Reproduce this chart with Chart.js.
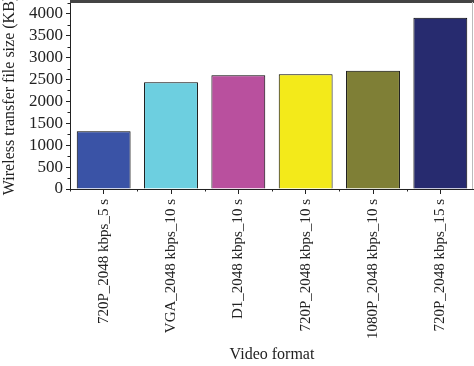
<!DOCTYPE html>
<html>
<head>
<meta charset="utf-8">
<script src="https://cdn.jsdelivr.net/npm/chart.js@4"></script>
<style>
  html, body { margin: 0; padding: 0; background: #fff; }
  #wrap { width: 474px; height: 366px; position: relative; }
</style>
</head>
<body>
<div id="wrap"><canvas id="c"></canvas></div>
<script>
const formats = ["720P_2048 kbps_5 s", "VGA_2048 kbps_10 s", "D1_2048 kbps_10 s",
  "720P_2048 kbps_10 s", "1080P_2048 kbps_10 s", "720P_2048 kbps_15 s"];
const sizes = [1320, 2440, 2600, 2620, 2700, 3910];
const barColors = ["#3a53a6", "#6dcfe0", "#b9509e", "#f3ea1a", "#7f7f36", "#272b6f"];
const yTicks = [0, 500, 1000, 1500, 2000, 2500, 3000, 3500, 4000];
const yMax = 4270;

const serif = "'Liberation Serif', 'DejaVu Serif', serif";

// minor ticks + top frame line
const minorTicks = {
  id: "minorTicks",
  afterDraw(chart) {
    const ctx = chart.ctx;
    const y = chart.scales.y, x = chart.scales.x;
    const area = chart.chartArea;
    ctx.save();
    ctx.strokeStyle = "#222";
    ctx.lineWidth = 1;
    ctx.beginPath();
    for (let v = 250; v < yMax; v += 500) {
      const py = Math.round(y.getPixelForValue(v)) + 0.5;
      ctx.moveTo(area.left - 2.5, py);
      ctx.lineTo(area.left, py);
    }
    for (let i = 0; i <= formats.length; i++) {
      const px = Math.round(x.getPixelForValue(i - 0.5)) + 0.5;
      ctx.moveTo(px, area.bottom);
      ctx.lineTo(px, area.bottom + 2.5);
    }
    ctx.stroke();
    ctx.strokeStyle = "#444";
    ctx.lineWidth = 3;
    ctx.beginPath();
    ctx.moveTo(area.left, area.top - 0.5);
    ctx.lineTo(area.right, area.top - 0.5);
    ctx.stroke();
    ctx.strokeStyle = "#bbb";
    ctx.lineWidth = 1;
    ctx.beginPath();
    ctx.moveTo(area.right - 1.5, area.top);
    ctx.lineTo(area.right - 1.5, area.bottom);
    ctx.stroke();
    ctx.restore();
  },
};

new Chart(document.getElementById("c"), {
  type: "bar",
  data: {
    labels: formats,
    datasets: [{
      data: sizes,
      backgroundColor: barColors,
      borderColor: "#000",
      borderWidth: 1,
      categoryPercentage: 0.8,
      barPercentage: 1,
    }],
  },
  options: {
    responsive: true,
    maintainAspectRatio: false,
    animation: false,
    layout: { padding: { top: 2, right: 0, left: 0, bottom: 0 } },
    plugins: { legend: { display: false }, tooltip: { enabled: false } },
    scales: {
      x: {
        grid: { offset: false, drawOnChartArea: false, tickLength: 5, color: "#222" },
        border: { color: "#222" },
        ticks: {
          color: "#222",
          font: { family: serif, size: 15 },
          minRotation: 90,
          maxRotation: 90,
          autoSkip: false,
          padding: 5,
        },
        title: {
          display: true,
          text: "Video format",
          color: "#222",
          font: { family: serif, size: 16 },
          padding: { top: 0, bottom: 2 },
        },
        afterFit(scale) { scale.height = 366 - 189; scale.paddingLeft = 0; scale.paddingRight = 0; },
      },
      y: {
        min: 0,
        max: yMax,
        afterBuildTicks(scale) { scale.ticks = yTicks.map((v) => ({ value: v })); },
        grid: { drawOnChartArea: false, tickLength: 4, color: "#222" },
        border: { color: "#222" },
        ticks: {
          color: "#222",
          font: { family: serif, size: 17 },
          padding: 3,
          autoSkip: false,
          callback: (v) => String(v),
        },
        title: {
          display: true,
          text: "Wireless transfer file size (KB)",
          color: "#222",
          font: { family: serif, size: 16 },
          padding: { top: 0, bottom: 1 },
        },
        afterFit(scale) { scale.width = 70; scale.paddingTop = 0; scale.paddingBottom = 0; },
      },
    },
  },
  plugins: [minorTicks],
});
</script>
</body>
</html>
